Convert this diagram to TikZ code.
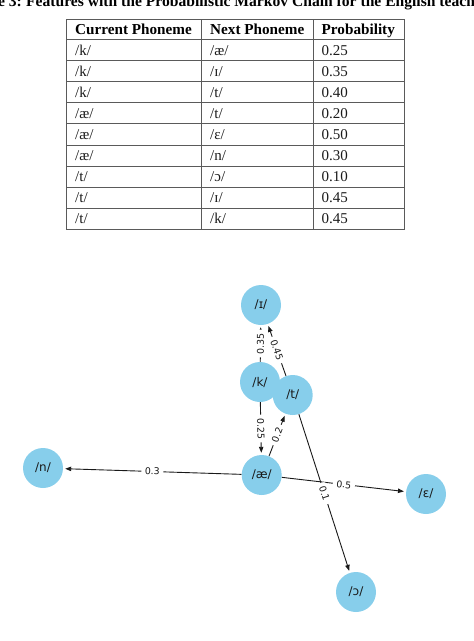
\documentclass[tikz,border=0pt]{standalone}
\usepackage{fontspec}
\setmainfont{Liberation Serif}
\newfontfamily\dejavu{DejaVu Sans}
\usetikzlibrary{arrows.meta}
\pgfdeclarelayer{bg}
\pgfsetlayers{bg,main}
\definecolor{skyblue}{HTML}{87CEEB}
\definecolor{gridc}{HTML}{5A5A5A}
\definecolor{txt}{HTML}{1A1A1A}
\tikzset{
  titlefont/.style={font=\bfseries\fontsize{15.6}{17}\selectfont, inner sep=0pt, text=black},
  headcell/.style={font=\bfseries\fontsize{15.2}{17}\selectfont, inner sep=0pt, anchor=base west, text=black},
  bodycell/.style={font=\fontsize{15}{17}\selectfont, inner sep=0pt, anchor=base west, text=txt},
  gridline/.style={draw=gridc, line width=0.9pt},
  phon/.style={circle, minimum size=40pt, inner sep=0pt, fill=skyblue, draw=none, text=black!90,
    font=\dejavu\fontsize{12}{14}\selectfont},
  edge/.style={draw=black!90, line width=0.9pt, -{Triangle[length=6pt,width=4.4pt]}, shorten >=2pt},
  lab/.style={fill=white, rounded corners=2pt, inner xsep=3.5pt, inner ysep=1.2pt, text=black!90,
    font=\dejavu\fontsize{9.4}{10}\selectfont}
}
\begin{document}
\begin{tikzpicture}[x=1pt,y=-1pt]
\useasboundingbox (0,0) rectangle (474,641);
% title (cut off at top)
\node[titlefont, anchor=base west] (title) at (26,6.5) {Features with the Probabilistic Markov Chain for the English teaching};
\node[titlefont, anchor=base east] (titlepre) at (22.1,6.5) {Table 3:};
% table grid
\draw[gridline] (66,19.3) rectangle (404,229.4);
\foreach \i in {0,...,8} \draw[gridline] (66,{39.5+21.1*\i}) -- (404,{39.5+21.1*\i});
\draw[gridline] (201,19.3) -- (201,229.4);
\draw[gridline] (313,19.3) -- (313,229.4);
% header
\node[headcell] (h1) at (75,34.4) {Current Phoneme};
\node[headcell] (h2) at (210,34.4) {Next Phoneme};
\node[headcell] (h3) at (321.5,34.4) {Probability};
% rows
\node[bodycell] (r1a) at (75,55.05) {/k/};
\node[bodycell] (r1b) at (210,55.05) {/æ/};
\node[bodycell] (r1c) at (321.5,55.05) {0.25};
\node[bodycell] (r2a) at (75,76.15) {/k/};
\node[bodycell] (r2b) at (210,76.15) {/ɪ/};
\node[bodycell] (r2c) at (321.5,76.15) {0.35};
\node[bodycell] (r3a) at (75,97.25) {/k/};
\node[bodycell] (r3b) at (210,97.25) {/t/};
\node[bodycell] (r3c) at (321.5,97.25) {0.40};
\node[bodycell] (r4a) at (75,118.35) {/æ/};
\node[bodycell] (r4b) at (210,118.35) {/t/};
\node[bodycell] (r4c) at (321.5,118.35) {0.20};
\node[bodycell] (r5a) at (75,139.45) {/æ/};
\node[bodycell] (r5b) at (210,139.45) {/ɛ/};
\node[bodycell] (r5c) at (321.5,139.45) {0.50};
\node[bodycell] (r6a) at (75,160.55) {/æ/};
\node[bodycell] (r6b) at (210,160.55) {/n/};
\node[bodycell] (r6c) at (321.5,160.55) {0.30};
\node[bodycell] (r7a) at (75,181.65) {/t/};
\node[bodycell] (r7b) at (210,181.65) {/ɔ/};
\node[bodycell] (r7c) at (321.5,181.65) {0.10};
\node[bodycell] (r8a) at (75,202.75) {/t/};
\node[bodycell] (r8b) at (210,202.75) {/ɪ/};
\node[bodycell] (r8c) at (321.5,202.75) {0.45};
\node[bodycell] (r9a) at (75,223.85) {/t/};
\node[bodycell] (r9b) at (210,223.85) {/k/};
\node[bodycell] (r9c) at (321.5,223.85) {0.45};
% graph nodes
\node[phon] (I) at (261,305) {/ɪ/};
\node[phon] (k) at (260,382) {/k/};
\node[phon] (t) at (292.7,395) {/t/};
\node[phon] (ae) at (261.7,475) {/æ/};
\node[phon] (n) at (43,468) {/n/};
\node[phon] (eps) at (426,494) {/ɛ/};
\node[phon] (oo) at (356,592) {/ɔ/};
% edges and labels
\begin{pgfonlayer}{bg}
\draw[edge] (k) -- (ae);
\draw[edge] (k) -- (I);
\draw[edge] (ae) -- (t);
\draw[edge] (ae) -- (eps);
\draw[edge] (ae) -- (n);
\draw[edge] (t) -- (oo);
\draw[edge] (t) -- (I);
\path (k) -- (ae) node[lab, midway, sloped] (l1) {0.25};
\path (k) -- (I) node[lab, midway, sloped] (l2) {0.35};
\path (ae) -- (t) node[lab, midway, sloped] (l4) {0.2};
\path (ae) -- (eps) node[lab, midway, sloped] (l5) {0.5};
\path (ae) -- (n) node[lab, midway, sloped] (l6) {0.3};
\path (t) -- (oo) node[lab, midway, sloped] (l7) {0.1};
\path (t) -- (I) node[lab, midway, sloped] (l8) {0.45};
\end{pgfonlayer}
\end{tikzpicture}
\end{document}
